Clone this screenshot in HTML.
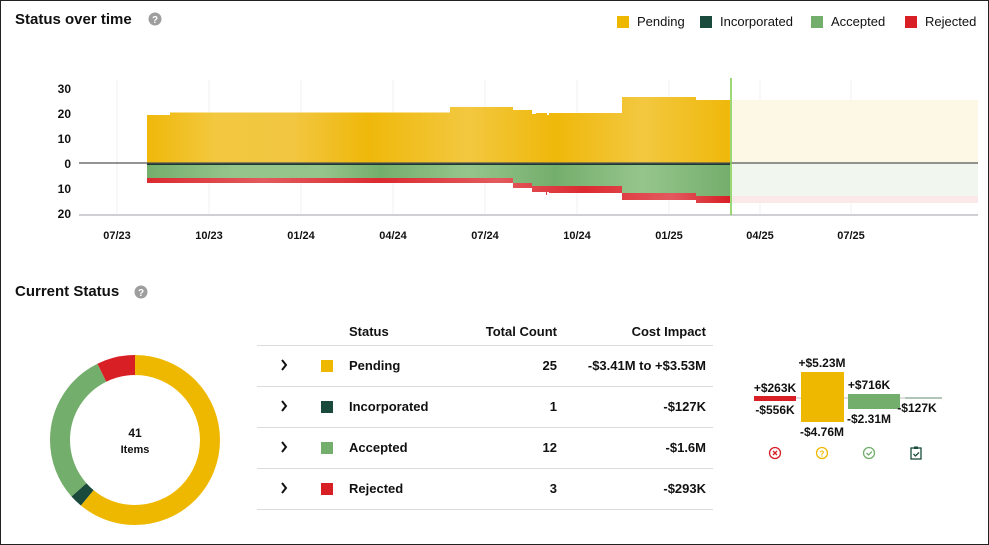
<!DOCTYPE html>
<html><head><meta charset="utf-8"><style>
html,body{margin:0;padding:0;background:#fff}
svg{display:block;font-family:"Liberation Sans",sans-serif}
</style></head><body>
<svg width="989" height="545" viewBox="0 0 989 545" xmlns="http://www.w3.org/2000/svg">
<defs>
<linearGradient id="gy" x1="147" x2="730" gradientUnits="userSpaceOnUse">
<stop offset="0" stop-color="#efb80a"/><stop offset="0.12" stop-color="#f3c840"/><stop offset="0.25" stop-color="#f2c640"/><stop offset="0.38" stop-color="#efb80a"/><stop offset="0.55" stop-color="#f3c840"/><stop offset="0.7" stop-color="#efb80a"/><stop offset="0.85" stop-color="#f3c840"/><stop offset="1" stop-color="#efb80a"/></linearGradient>
<linearGradient id="gg" x1="147" x2="730" gradientUnits="userSpaceOnUse">
<stop offset="0" stop-color="#74ae6c"/><stop offset="0.15" stop-color="#96c58c"/><stop offset="0.3" stop-color="#96c58c"/><stop offset="0.4" stop-color="#74ae6c"/><stop offset="0.55" stop-color="#96c58c"/><stop offset="0.7" stop-color="#74ae6c"/><stop offset="0.85" stop-color="#96c58c"/><stop offset="1" stop-color="#74ae6c"/></linearGradient>
<linearGradient id="gr" x1="147" x2="730" gradientUnits="userSpaceOnUse">
<stop offset="0" stop-color="#dc2a30"/><stop offset="0.2" stop-color="#e25a5e"/><stop offset="0.4" stop-color="#dc2a30"/><stop offset="0.6" stop-color="#e25a5e"/><stop offset="0.75" stop-color="#dc2a30"/><stop offset="0.9" stop-color="#e25a5e"/><stop offset="1" stop-color="#d81f26"/></linearGradient>
</defs>
<rect x="0.5" y="0.5" width="988" height="544" fill="#fff" stroke="#222"/>
<text x="15" y="24" font-size="15" font-weight="bold" fill="#111">Status over time</text>
<circle cx="155" cy="19" r="6.5" fill="#9e9e9e"/><text x="155" y="23" font-size="10" font-weight="bold" fill="#fff" text-anchor="middle">?</text>
<g font-size="13" fill="#111">
<rect x="617" y="16" width="12" height="12" fill="#efb800"/><text x="637" y="26">Pending</text>
<rect x="700" y="16" width="12" height="12" fill="#1a4a3c"/><text x="720" y="26">Incorporated</text>
<rect x="811" y="16" width="12" height="12" fill="#74ae6c"/><text x="831" y="26">Accepted</text>
<rect x="905" y="16" width="12" height="12" fill="#d81f26"/><text x="925" y="26">Rejected</text>
</g>
<g stroke="#f0f0f0" stroke-width="1">
<line x1="117" y1="80" x2="117" y2="215"/><line x1="209" y1="80" x2="209" y2="215"/><line x1="301" y1="80" x2="301" y2="215"/><line x1="393" y1="80" x2="393" y2="215"/><line x1="485" y1="80" x2="485" y2="215"/><line x1="577" y1="80" x2="577" y2="215"/><line x1="669" y1="80" x2="669" y2="215"/><line x1="760" y1="80" x2="760" y2="215"/><line x1="851" y1="80" x2="851" y2="215"/>
</g>
<g font-size="12" font-weight="bold" fill="#111" text-anchor="end">
<text x="71" y="93">30</text><text x="71" y="118">20</text><text x="71" y="143">10</text><text x="71" y="168">0</text><text x="71" y="193">10</text><text x="71" y="218">20</text>
</g>
<!-- yellow -->
<path fill="url(#gy)" d="M147,163 V115 H170 V112.5 H450 V107 H513 V110 H532 V114 H536 V113 H547 V115 H549 V113 H622 V97 H696 V100 H730 V163 Z"/>
<!-- green -->
<path fill="url(#gg)" d="M147,163 H730 V196 H696 V193 H622 V186 H532 V183 H513 V178 H147 Z"/>
<!-- red -->
<path fill="url(#gr)" d="M147,178 H513 V183 H532 V186 H622 V193 H696 V196 H730 V203 H696 V200 H622 V193 H549 V192 H547 V195 H546 V192 H532 V188 H513 V183 H147 Z"/>
<line x1="147" y1="164" x2="730" y2="164" stroke="#1a3a30" stroke-width="2"/>
<!-- future -->
<rect x="731" y="100" width="247" height="63" fill="#fdf7e6"/>
<rect x="731" y="163" width="247" height="33" fill="#f1f6ef"/>
<rect x="731" y="196" width="247" height="7" fill="#fbe9ea"/>
<line x1="79" y1="163" x2="978" y2="163" stroke="#555" stroke-width="1.3"/>
<line x1="79" y1="215" x2="978" y2="215" stroke="#cfd0d4" stroke-width="2"/>
<line x1="731" y1="78" x2="731" y2="215" stroke="#7ccc4a" stroke-width="1.5"/>
<g font-size="11" font-weight="bold" fill="#111" text-anchor="middle">
<text x="117" y="239">07/23</text><text x="209" y="239">10/23</text><text x="301" y="239">01/24</text><text x="393" y="239">04/24</text><text x="485" y="239">07/24</text><text x="577" y="239">10/24</text><text x="669" y="239">01/25</text><text x="760" y="239">04/25</text><text x="851" y="239">07/25</text>
</g>
<text x="15" y="296" font-size="15" font-weight="bold" fill="#111">Current Status</text>
<circle cx="141" cy="292" r="6.5" fill="#9e9e9e"/><text x="141" y="296" font-size="10" font-weight="bold" fill="#fff" text-anchor="middle">?</text>
<!-- donut -->
<g transform="rotate(-90 135 440)" fill="none" stroke-width="20">
<circle cx="135" cy="440" r="75" stroke="#efb800" stroke-dasharray="287.3 500"/>
<circle cx="135" cy="440" r="75" stroke="#1a4a3c" stroke-dasharray="0 287.3 11.5 500"/>
<circle cx="135" cy="440" r="75" stroke="#74ae6c" stroke-dasharray="0 298.8 137.9 500"/>
<circle cx="135" cy="440" r="75" stroke="#d81f26" stroke-dasharray="0 436.7 34.5 500"/>
</g>
<text x="135" y="437" font-size="12" font-weight="bold" text-anchor="middle" fill="#111">41</text>
<text x="135" y="453" font-size="11" font-weight="bold" text-anchor="middle" fill="#111">Items</text>
<!-- table -->
<g font-size="13" font-weight="bold" fill="#111">
<text x="349" y="336">Status</text><text x="557" y="336" text-anchor="end">Total Count</text><text x="706" y="336" text-anchor="end">Cost Impact</text>
<g stroke="#dcdce0" stroke-width="1"><line x1="257" y1="345.5" x2="713" y2="345.5"/><line x1="257" y1="386.5" x2="713" y2="386.5"/><line x1="257" y1="427.5" x2="713" y2="427.5"/><line x1="257" y1="468.5" x2="713" y2="468.5"/><line x1="257" y1="509.5" x2="713" y2="509.5"/></g>
<g fill="none" stroke="#111" stroke-width="2"><path d="M282,360 l4,5 l-4,5"/><path d="M282,401 l4,5 l-4,5"/><path d="M282,442 l4,5 l-4,5"/><path d="M282,483 l4,5 l-4,5"/></g>
<rect x="321" y="360" width="12" height="12" fill="#efb800"/><rect x="321" y="401" width="12" height="12" fill="#1a4a3c"/><rect x="321" y="442" width="12" height="12" fill="#74ae6c"/><rect x="321" y="483" width="12" height="12" fill="#d81f26"/>
<text x="349" y="370">Pending</text><text x="349" y="411">Incorporated</text><text x="349" y="452">Accepted</text><text x="349" y="493">Rejected</text>
<g text-anchor="end"><text x="557" y="370">25</text><text x="557" y="411">1</text><text x="557" y="452">12</text><text x="557" y="493">3</text>
<text x="706" y="370">-$3.41M to +$3.53M</text><text x="706" y="411">-$127K</text><text x="706" y="452">-$1.6M</text><text x="706" y="493">-$293K</text></g>
</g>
<!-- waterfall -->
<line x1="754" y1="398" x2="942" y2="398" stroke="#d6d6d6" stroke-width="1.5"/>
<rect x="754" y="396" width="42" height="5" fill="#d81f26"/>
<rect x="801" y="372" width="43" height="50" fill="#efb800"/>
<rect x="848" y="394" width="52" height="15" fill="#74ae6c"/>
<line x1="905" y1="398" x2="942" y2="398" stroke="#9fb9a8" stroke-width="1.5"/>
<g font-size="12" font-weight="bold" fill="#111" text-anchor="middle">
<text x="775" y="392">+$263K</text><text x="775" y="414">-$556K</text>
<text x="822" y="367">+$5.23M</text><text x="822" y="436">-$4.76M</text>
<text x="869" y="389">+$716K</text><text x="869" y="423">-$2.31M</text>
<text x="917" y="412">-$127K</text>
</g>
<circle cx="775" cy="453" r="5.5" fill="none" stroke="#d81f26" stroke-width="1.3"/><path d="M773,451 l4,4 M777,451 l-4,4" stroke="#d81f26" stroke-width="1.3"/>
<circle cx="822" cy="453" r="5.5" fill="none" stroke="#efb800" stroke-width="1.3"/><text x="822" y="456.5" font-size="8" font-weight="bold" fill="#efb800" text-anchor="middle">?</text>
<circle cx="869" cy="453" r="5.5" fill="none" stroke="#74ae6c" stroke-width="1.3"/><path d="M866.5,453 l2,2 l3.5,-3.5" fill="none" stroke="#74ae6c" stroke-width="1.3"/>
<rect x="911" y="448" width="10" height="11" fill="none" stroke="#1a4a3c" stroke-width="1.3"/><rect x="914" y="446.5" width="4" height="2.5" fill="#1a4a3c"/><path d="M913.5,454 l2,2 l3.5,-3.5" fill="none" stroke="#1a4a3c" stroke-width="1.3"/>
</svg>
</body></html>
